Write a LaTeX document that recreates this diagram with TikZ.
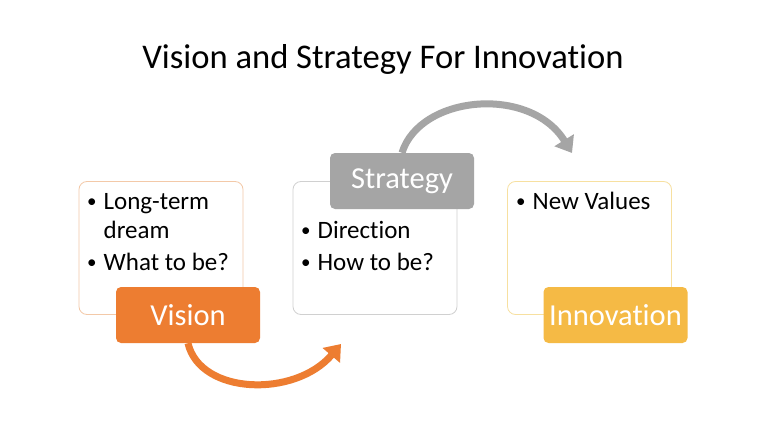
\documentclass[tikz,border=0pt]{standalone}
\usepackage{fontspec}
\setmainfont{Carlito}[Ligatures=NoCommon]
\usetikzlibrary{arrows.meta}
\definecolor{vorange}{HTML}{ED7D31}
\definecolor{vgray}{HTML}{A5A5A5}
\definecolor{vgold}{HTML}{F5BA45}
\definecolor{borange}{HTML}{F3C9A8}
\definecolor{bgray}{HTML}{D0D0D0}
\definecolor{bgold}{HTML}{F7E0A0}
\newcommand{\bul}{{\fontsize{19}{19}\selectfont\raisebox{1.5pt}{•}}}
\tikzset{
  textbox/.style={draw=#1, line width=0.8pt, rounded corners=8pt, fill=white,
    minimum width=164pt, minimum height=133pt, inner sep=0pt},
  labelbox/.style={fill=#1, rounded corners=5pt, minimum width=144pt,
    minimum height=56pt, inner sep=0pt, text=white,
    font=\fontsize{30.5}{34}\selectfont},
  bullets/.style={anchor=base west, inner sep=0pt, font=\fontsize{25}{29}\selectfont},
  flow/.style={line width=7pt, draw=#1,
    -{Triangle[width=22pt,length=15pt]}}
}
\begin{document}
\begin{tikzpicture}[x=1pt,y=-1pt]
\useasboundingbox[fill=white] (0,0) rectangle (768,425);
\node[font=\fontsize{34.6}{40}\selectfont, anchor=base] (title) at (383,69) {Vision and Strategy For Innovation};

% boxes
\node[textbox=borange] (visbox) at (161,248) {};
\node[textbox=bgray] (strbox) at (375,248) {};
\node[textbox=bgold] (innbox) at (589.5,248) {};

\node[bullets] (vistext) at (87,209) {\begin{tabular}[t]{@{}l@{\hspace{7pt}}l@{}}\bul&Long-term\\&dream\\[3pt]\bul&What to be?\end{tabular}};
\node[bullets] (strtext) at (301,238) {\begin{tabular}[t]{@{}l@{\hspace{7pt}}l@{}}\bul&Direction\\[3pt]\bul&How to be?\end{tabular}};
\node[bullets] (inntext) at (516,209) {\begin{tabular}[t]{@{}l@{\hspace{7pt}}l@{}}\bul&New Values\end{tabular}};

\node[labelbox=vorange] (vision) at (188,315) {Vision};
\node[labelbox=vgray] (strategy) at (402,181) {Strategy};
\node[labelbox=vgold] (innovation) at (615.5,315) {Innovation};

% arrows
\coordinate (otip) at (341,344);
\coordinate (gtip) at (572,153);
\draw[flow=vorange] (vision.south) .. controls (200,395) and (295,398) .. (otip);
\draw[flow=vgray] (strategy.north) .. controls (420,95) and (530,85) .. (gtip);
\end{tikzpicture}
\end{document}
